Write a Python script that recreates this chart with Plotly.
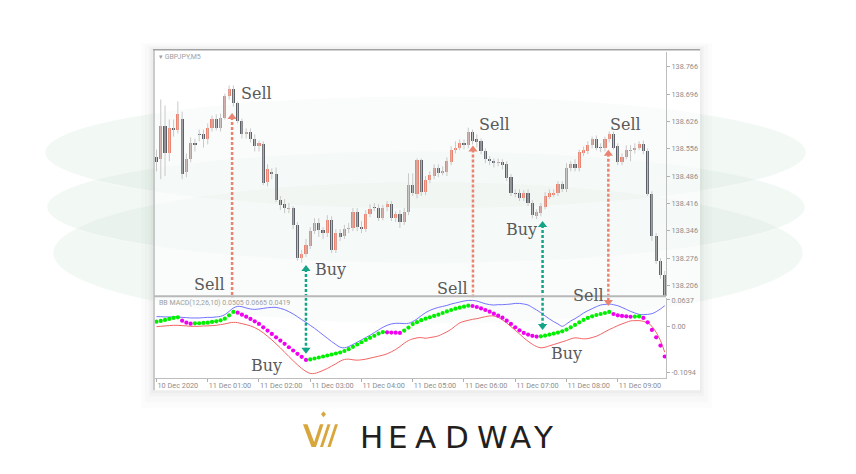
import plotly.graph_objects as go

W, H = 856, 474

# ---------------- data ----------------
bar_index = list(range(120))

open_ = [138.534, 138.529, 138.613, 138.544, 138.610, 138.605, 138.633, 138.496, 138.529, 138.570,
 138.595, 138.593, 138.580, 138.608, 138.631, 138.608, 138.636, 138.690, 138.710, 138.672,
 138.628, 138.593, 138.598, 138.582, 138.562, 138.567, 138.470, 138.496, 138.491, 138.424,
 138.414, 138.401, 138.404, 138.361, 138.276, 138.287, 138.307, 138.345, 138.366, 138.348,
 138.340, 138.373, 138.297, 138.340, 138.332, 138.350, 138.353, 138.394, 138.355, 138.350,
 138.389, 138.406, 138.404, 138.378, 138.406, 138.414, 138.378, 138.389, 138.368, 138.394,
 138.463, 138.440, 138.526, 138.445, 138.475, 138.486, 138.506, 138.493, 138.496, 138.521,
 138.552, 138.559, 138.570, 138.565, 138.598, 138.582, 138.575, 138.549, 138.529, 138.524,
 138.519, 138.521, 138.516, 138.483, 138.442, 138.442, 138.429, 138.442, 138.417, 138.383,
 138.391, 138.406, 138.432, 138.438, 138.442, 138.465, 138.452, 138.506, 138.516, 138.506,
 138.544, 138.549, 138.565, 138.580, 138.559, 138.557, 138.580, 138.593, 138.562, 138.521,
 138.534, 138.549, 138.552, 138.559, 138.567, 138.549, 138.440, 138.332, 138.269, 138.233]

close_ = [138.521, 138.613, 138.544, 138.608, 138.605, 138.646, 138.491, 138.531, 138.570, 138.565,
 138.590, 138.580, 138.608, 138.631, 138.608, 138.636, 138.690, 138.710, 138.672, 138.628,
 138.595, 138.598, 138.582, 138.562, 138.570, 138.468, 138.503, 138.491, 138.424, 138.412,
 138.404, 138.404, 138.361, 138.276, 138.287, 138.310, 138.345, 138.366, 138.348, 138.340,
 138.373, 138.297, 138.340, 138.330, 138.350, 138.353, 138.394, 138.355, 138.350, 138.389,
 138.401, 138.404, 138.378, 138.404, 138.414, 138.378, 138.389, 138.368, 138.394, 138.463,
 138.442, 138.526, 138.445, 138.475, 138.488, 138.506, 138.493, 138.498, 138.524, 138.552,
 138.559, 138.570, 138.565, 138.600, 138.575, 138.572, 138.549, 138.529, 138.524, 138.519,
 138.521, 138.514, 138.480, 138.442, 138.440, 138.429, 138.442, 138.417, 138.386, 138.394,
 138.409, 138.435, 138.442, 138.443, 138.465, 138.452, 138.506, 138.516, 138.506, 138.547,
 138.552, 138.565, 138.580, 138.557, 138.557, 138.580, 138.595, 138.559, 138.521, 138.534,
 138.554, 138.554, 138.559, 138.567, 138.549, 138.440, 138.332, 138.269, 138.233, 138.180]

high_ = [138.554, 138.682, 138.667, 138.631, 138.631, 138.677, 138.651, 138.544, 138.585, 138.582,
 138.605, 138.605, 138.621, 138.641, 138.644, 138.646, 138.697, 138.718, 138.718, 138.677,
 138.633, 138.608, 138.608, 138.593, 138.577, 138.575, 138.516, 138.506, 138.508, 138.435,
 138.427, 138.417, 138.409, 138.368, 138.297, 138.325, 138.355, 138.378, 138.378, 138.355,
 138.386, 138.383, 138.350, 138.350, 138.361, 138.366, 138.404, 138.404, 138.371, 138.399,
 138.414, 138.417, 138.414, 138.412, 138.422, 138.422, 138.396, 138.399, 138.404, 138.493,
 138.493, 138.531, 138.531, 138.486, 138.498, 138.516, 138.516, 138.511, 138.534, 138.562,
 138.575, 138.580, 138.580, 138.610, 138.605, 138.593, 138.582, 138.557, 138.537, 138.531,
 138.531, 138.529, 138.524, 138.491, 138.452, 138.452, 138.450, 138.452, 138.424, 138.401,
 138.417, 138.445, 138.452, 138.452, 138.473, 138.473, 138.519, 138.524, 138.529, 138.554,
 138.562, 138.575, 138.587, 138.590, 138.570, 138.587, 138.600, 138.600, 138.570, 138.544,
 138.565, 138.565, 138.570, 138.575, 138.577, 138.557, 138.447, 138.340, 138.276, 138.243]

low_ = [138.498, 138.478, 138.486, 138.524, 138.587, 138.595, 138.478, 138.483, 138.521, 138.549,
 138.575, 138.559, 138.567, 138.600, 138.603, 138.600, 138.631, 138.682, 138.664, 138.621,
 138.582, 138.582, 138.572, 138.549, 138.549, 138.463, 138.460, 138.478, 138.419, 138.399,
 138.391, 138.391, 138.350, 138.269, 138.264, 138.279, 138.299, 138.338, 138.330, 138.325,
 138.330, 138.289, 138.289, 138.320, 138.325, 138.340, 138.345, 138.345, 138.340, 138.343,
 138.381, 138.396, 138.371, 138.373, 138.396, 138.371, 138.368, 138.353, 138.361, 138.386,
 138.435, 138.429, 138.435, 138.437, 138.468, 138.478, 138.483, 138.488, 138.486, 138.514,
 138.544, 138.552, 138.554, 138.557, 138.567, 138.559, 138.542, 138.519, 138.514, 138.508,
 138.511, 138.503, 138.473, 138.435, 138.432, 138.422, 138.422, 138.409, 138.378, 138.376,
 138.383, 138.401, 138.427, 138.432, 138.435, 138.445, 138.445, 138.498, 138.498, 138.498,
 138.537, 138.542, 138.557, 138.552, 138.547, 138.549, 138.572, 138.554, 138.514, 138.514,
 138.529, 138.524, 138.544, 138.552, 138.542, 138.435, 138.320, 138.261, 138.223, 138.174]

macd_line = [0.0119, 0.0136, 0.0159, 0.0183, 0.0207, 0.0221, 0.0143, 0.0095, 0.0071, 0.0078,
 0.0081, 0.0088, 0.0095, 0.0112, 0.0126, 0.0150, 0.0190, 0.0269, 0.0350, 0.0333,
 0.0286, 0.0238, 0.0183, 0.0126, 0.0064, -0.0017, -0.0095, -0.0174, -0.0255, -0.0333,
 -0.0412, -0.0493, -0.0571, -0.0650, -0.0721, -0.0797, -0.0785, -0.0762, -0.0738, -0.0714,
 -0.0690, -0.0666, -0.0643, -0.0619, -0.0583, -0.0540, -0.0483, -0.0428, -0.0374, -0.0317,
 -0.0269, -0.0221, -0.0167, -0.0131, -0.0136, -0.0143, -0.0145, -0.0150, -0.0095, -0.0024,
 0.0060, 0.0107, 0.0155, 0.0190, 0.0221, 0.0255, 0.0286, 0.0326, 0.0364, 0.0397,
 0.0428, 0.0452, 0.0476, 0.0500, 0.0493, 0.0469, 0.0436, 0.0397, 0.0357, 0.0309,
 0.0262, 0.0214, 0.0143, 0.0064, -0.0017, -0.0088, -0.0150, -0.0190, -0.0221, -0.0238,
 -0.0233, -0.0214, -0.0190, -0.0167, -0.0143, -0.0112, -0.0071, -0.0017, 0.0040, 0.0102,
 0.0159, 0.0207, 0.0245, 0.0278, 0.0302, 0.0326, 0.0350, 0.0302, 0.0269, 0.0255,
 0.0245, 0.0236, 0.0240, 0.0243, 0.0207, 0.0102, -0.0079, -0.0255, -0.0452, -0.0714]

band_upper = [0.0238, 0.0238, 0.0231, 0.0231, 0.0231, 0.0231, 0.0221, 0.0214, 0.0207, 0.0207,
 0.0207, 0.0214, 0.0221, 0.0221, 0.0231, 0.0245, 0.0286, 0.0364, 0.0445, 0.0483,
 0.0476, 0.0445, 0.0421, 0.0412, 0.0421, 0.0436, 0.0452, 0.0459, 0.0459, 0.0436,
 0.0405, 0.0357, 0.0302, 0.0238, 0.0167, 0.0102, 0.0031, -0.0040, -0.0119, -0.0198,
 -0.0278, -0.0357, -0.0428, -0.0493, -0.0507, -0.0476, -0.0428, -0.0374, -0.0317, -0.0262,
 -0.0207, -0.0143, -0.0079, -0.0017, 0.0031, 0.0064, 0.0079, 0.0079, 0.0071, 0.0079,
 0.0119, 0.0183, 0.0262, 0.0333, 0.0388, 0.0428, 0.0459, 0.0483, 0.0507, 0.0540,
 0.0564, 0.0588, 0.0612, 0.0626, 0.0626, 0.0612, 0.0578, 0.0547, 0.0524, 0.0516,
 0.0524, 0.0524, 0.0531, 0.0540, 0.0555, 0.0555, 0.0540, 0.0516, 0.0459, 0.0397,
 0.0333, 0.0255, 0.0183, 0.0119, 0.0064, 0.0007, 0.0064, 0.0136, 0.0190, 0.0255,
 0.0326, 0.0381, 0.0428, 0.0476, 0.0516, 0.0531, 0.0540, 0.0524, 0.0500, 0.0459,
 0.0412, 0.0364, 0.0326, 0.0293, 0.0286, 0.0293, 0.0309, 0.0357, 0.0421, 0.0500]

band_lower = [0.0000, 0.0007, 0.0017, 0.0024, 0.0031, 0.0031, 0.0024, 0.0017, 0.0007, 0.0007,
 0.0007, 0.0017, 0.0017, 0.0024, 0.0031, 0.0048, 0.0064, 0.0088, 0.0102, 0.0095,
 0.0071, 0.0048, 0.0017, -0.0024, -0.0079, -0.0150, -0.0231, -0.0317, -0.0412, -0.0507,
 -0.0612, -0.0714, -0.0816, -0.0912, -0.1000, -0.1071, -0.1119, -0.1119, -0.1088, -0.1047,
 -0.1000, -0.0945, -0.0888, -0.0826, -0.0785, -0.0778, -0.0793, -0.0802, -0.0793, -0.0778,
 -0.0754, -0.0731, -0.0707, -0.0683, -0.0650, -0.0602, -0.0547, -0.0476, -0.0397, -0.0333,
 -0.0293, -0.0269, -0.0262, -0.0278, -0.0262, -0.0245, -0.0221, -0.0174, -0.0126, -0.0064,
 0.0017, 0.0088, 0.0126, 0.0150, 0.0174, 0.0190, 0.0214, 0.0238, 0.0255, 0.0255,
 0.0221, 0.0159, 0.0088, 0.0000, -0.0088, -0.0174, -0.0269, -0.0350, -0.0421, -0.0476,
 -0.0507, -0.0493, -0.0459, -0.0428, -0.0397, -0.0364, -0.0333, -0.0293, -0.0269, -0.0278,
 -0.0293, -0.0286, -0.0262, -0.0231, -0.0183, -0.0126, -0.0071, -0.0024, 0.0024, 0.0064,
 0.0102, 0.0136, 0.0143, 0.0143, 0.0126, 0.0088, 0.0007, -0.0136, -0.0333, -0.0612]

time_ticks = [0, 12, 24, 36, 48, 60, 72, 84, 96, 108]
time_labels = ["10 Dec 2020", "11 Dec 01:00", "11 Dec 02:00", "11 Dec 03:00", "11 Dec 04:00",
               "11 Dec 05:00", "11 Dec 06:00", "11 Dec 07:00", "11 Dec 08:00", "11 Dec 09:00"]
price_ticks = [138.766, 138.696, 138.626, 138.556, 138.486, 138.416, 138.346, 138.276, 138.206]
macd_ticks = [0.0637, 0.0, -0.1094]
macd_tick_labels = ["0.0637", "0.00", "-0.1094"]

signal_kind = ["Sell", "Buy", "Sell", "Buy", "Sell"]
signal_x = [17.7, 35.0, 74.1, 90.4, 105.8]
signal_price = [138.637, 138.248, 138.554, 138.361, 138.543]
signal_macd = [0.0754, -0.0555, 0.0778, 0.0017, 0.0588]

price_range = [138.1795, 138.8043]
macd_range = [-0.1238, 0.0690]
x_range = [-0.35, 119.3]

# ---------------- styling helpers ----------------
def px(x):
    return x / W

def py(y):
    return 1 - y / H

SELL_C = "#ea8370"
BUY_C = "#14a386"
UP_C = "#ea8470"
DOWN_C = "#5d6167"
AX_FONT = dict(family="Roboto", size=7.3, color="#8e8e8e")

fig = go.Figure()

# wicks
wx, wy = [], []
for i, h, l in zip(bar_index, high_, low_):
    wx += [i, i, None]
    wy += [l, h, None]
fig.add_trace(go.Scatter(x=wx, y=wy, mode="lines", line=dict(color="#c8c8c8", width=1),
                         xaxis="x", yaxis="y", hoverinfo="skip"))

# bodies
body_base = [min(o, c) for o, c in zip(open_, close_)]
body_h = [max(abs(c - o), 0.0026) for o, c in zip(open_, close_)]
body_col = [UP_C if c >= o else DOWN_C for o, c in zip(open_, close_)]
fig.add_trace(go.Bar(x=bar_index, y=body_h, base=body_base, width=0.74,
                     marker=dict(color=body_col, line=dict(width=0)),
                     xaxis="x", yaxis="y", hoverinfo="skip"))

# MACD bands
fig.add_trace(go.Scatter(x=bar_index, y=band_upper, mode="lines",
                         line=dict(color="#7373ff", width=1, shape="spline"),
                         xaxis="x2", yaxis="y2", hoverinfo="skip"))
fig.add_trace(go.Scatter(x=bar_index, y=band_lower, mode="lines",
                         line=dict(color="#f26464", width=1, shape="spline"),
                         xaxis="x2", yaxis="y2", hoverinfo="skip"))
dot_col = []
for k, v in enumerate(macd_line):
    rising = k == 0 or v > macd_line[k - 1]
    dot_col.append("#00f000" if rising else "#f000f0")
fig.add_trace(go.Scatter(x=bar_index, y=macd_line, mode="markers",
                         marker=dict(color=dot_col, size=4.2, line=dict(width=0)),
                         xaxis="x2", yaxis="y2", hoverinfo="skip"))

# signal arrows
for kind, sx, sp, sm in zip(signal_kind, signal_x, signal_price, signal_macd):
    col = SELL_C if kind == "Sell" else BUY_C
    fig.add_trace(go.Scatter(x=[sx, sx], y=[sp, price_range[0]], mode="lines",
                             line=dict(color=col, width=2.5, dash="3px,2px"),
                             xaxis="x", yaxis="y", hoverinfo="skip"))
    fig.add_trace(go.Scatter(x=[sx, sx], y=[macd_range[1], sm], mode="lines",
                             line=dict(color=col, width=2.5, dash="3px,2px"),
                             xaxis="x2", yaxis="y2", hoverinfo="skip"))
    fig.add_trace(go.Scatter(x=[sx], y=[sp], mode="markers", cliponaxis=False,
                             marker=dict(symbol="triangle-up", size=8, color=col, line=dict(width=0)),
                             xaxis="x", yaxis="y", hoverinfo="skip"))
    fig.add_trace(go.Scatter(x=[sx], y=[sm], mode="markers", cliponaxis=False,
                             marker=dict(symbol="triangle-down", size=8, color=col, line=dict(width=0)),
                             xaxis="x2", yaxis="y2", hoverinfo="skip"))

# ---------------- decorations ----------------
shapes = []
# soft green discs (behind the card)
for (x0, x1, y0, y1) in [(53, 803, 181, 323), (47, 805, 150, 262), (45, 806, 95, 207)]:
    shapes.append(dict(type="circle", xref="paper", yref="paper", layer="below",
                       x0=px(x0), x1=px(x1), y0=py(y1), y1=py(y0),
                       fillcolor="rgba(205,228,211,0.16)", line=dict(color="rgba(255,255,255,0.8)", width=1)))
# card shadow
for grow, dy, alpha in [(12, 6, 0.010), (8, 4, 0.014), (4, 2, 0.020), (2, 1, 0.025)]:
    shapes.append(dict(type="rect", xref="paper", yref="paper", layer="below",
                       x0=px(153 - grow), x1=px(700 + grow), y0=py(390 + grow + dy), y1=py(47 - grow + dy),
                       fillcolor=f"rgba(0,0,0,{alpha})", line=dict(width=0)))
shapes.append(dict(type="rect", xref="paper", yref="paper", layer="below",
                   x0=px(153), x1=px(700), y0=py(390), y1=py(47),
                   fillcolor="white", line=dict(width=0)))
# tint of the discs seen through the chart
for (x0, x1, y0, y1) in [(53, 803, 181, 323), (47, 805, 150, 262), (45, 806, 95, 207)]:
    shapes.append(dict(type="circle", xref="paper", yref="paper", layer="below",
                       x0=px(x0), x1=px(x1), y0=py(y1), y1=py(y0),
                       fillcolor="rgba(205,228,211,0.10)", line=dict(width=0)))
# frame lines
shapes.append(dict(type="line", xref="paper", yref="paper", x0=px(153), x1=px(700), y0=py(48), y1=py(48),
                   line=dict(color="#a2a2a2", width=1.5)))
shapes.append(dict(type="line", xref="paper", yref="paper", x0=px(154), x1=px(154), y0=py(48), y1=py(390),
                   line=dict(color="#a8a8a8", width=1.2)))
shapes.append(dict(type="line", xref="paper", yref="paper", x0=px(154), x1=px(666), y0=py(295.5), y1=py(295.5),
                   line=dict(color="#b8b8b8", width=2)))

# logo icon (gold)
gold = "#d8a73c"
def poly(pts):
    return "M " + " L ".join(f"{px(a):.5f},{py(b):.5f}" for a, b in pts) + " Z"
for pts in [[(303, 424), (307.5, 424), (316, 447), (311.5, 447)],
            [(312.5, 447), (316, 447), (323.5, 424), (320, 424)],
            [(320, 447), (323, 447), (330.5, 424), (327.5, 424)],
            [(327.5, 447), (330.5, 447), (338, 424), (335, 424)],
            [(323.5, 411), (326, 414), (323.5, 417), (321, 414)]]:
    shapes.append(dict(type="path", xref="paper", yref="paper", path=poly(pts),
                       fillcolor=gold, line=dict(width=0)))

annotations = []
annotations.append(dict(xref="paper", yref="paper", x=px(157), y=py(55.5), xanchor="left", yanchor="middle",
                        text="▾ GBPJPY,M5", showarrow=False, font=dict(family="Roboto", size=7, color="#a0a0a0")))
annotations.append(dict(xref="paper", yref="paper", x=px(157), y=py(302), xanchor="left", yanchor="middle",
                        text="BB MACD(12,26,10) 0.0505 0.0665 0.0419", showarrow=False,
                        font=dict(family="Roboto", size=7, color="#a0a0a0")))

label_top_px = [(256.7, 91.5), (330.5, 269), (494, 123), (521.5, 228), (625.5, 123)]
label_bot_px = [(209, 283.5), (266, 365.5), (452, 287.5), (566.5, 352.5), (588, 295)]
for kind, (tx, ty), (bx, by) in zip(signal_kind, label_top_px, label_bot_px):
    for (lx, ly) in [(tx, ty), (bx, by)]:
        annotations.append(dict(xref="paper", yref="paper", x=px(lx), y=py(ly), xanchor="center",
                                yanchor="middle", text=kind, showarrow=False,
                                font=dict(family="DejaVu Serif", size=16, color="#5a5a5a")))

logo_letters = ["H", "E", "A", "D", "W", "A", "Y"]
logo_x = [371.5, 397.5, 425.5, 457, 492.5, 520.5, 542.5]
for ch, lx in zip(logo_letters, logo_x):
    annotations.append(dict(xref="paper", yref="paper", x=px(lx), y=py(436.5), xanchor="center",
                            yanchor="middle", text=ch, showarrow=False,
                            font=dict(family="DejaVu Sans", size=31, color="#231f20")))

axis_common = dict(showgrid=False, zeroline=False)
fig.update_layout(
    width=W, height=H, autosize=False,
    margin=dict(l=0, r=0, t=0, b=0),
    paper_bgcolor="white", plot_bgcolor="rgba(0,0,0,0)",
    showlegend=False, hovermode=False,
    xaxis=dict(domain=[px(155), px(666)], anchor="y", range=x_range, showticklabels=False,
               ticks="", showline=False, **axis_common),
    xaxis2=dict(domain=[px(155), px(666)], anchor="y2", range=x_range, matches="x",
                tickmode="array", tickvals=time_ticks, ticktext=time_labels, tickangle=0,
                ticks="outside", ticklen=3, tickcolor="#b0b0b0", ticklabelposition="outside right",
                tickfont=AX_FONT, showline=True, linecolor="#bdbdbd", linewidth=1, **axis_common),
    yaxis=dict(domain=[py(295), py(50)], anchor="x", range=price_range, side="right",
               tickmode="array", tickvals=price_ticks, ticktext=[f"{v:.3f}" for v in price_ticks],
               ticks="outside", ticklen=3, tickcolor="#b0b0b0", tickfont=AX_FONT,
               showline=True, linecolor="#bdbdbd", linewidth=1, **axis_common),
    yaxis2=dict(domain=[py(378), py(297)], anchor="x2", range=macd_range, side="right",
                tickmode="array", tickvals=macd_ticks, ticktext=macd_tick_labels,
                ticks="outside", ticklen=3, tickcolor="#b0b0b0", tickfont=AX_FONT,
                showline=True, linecolor="#bdbdbd", linewidth=1, **axis_common),
    shapes=shapes,
    annotations=annotations,
    bargap=0,
)

fig.write_html("out.html", config={"displayModeBar": False, "staticPlot": True},
               post_script="document.body.style.margin='0px';document.body.style.overflow='hidden';")
